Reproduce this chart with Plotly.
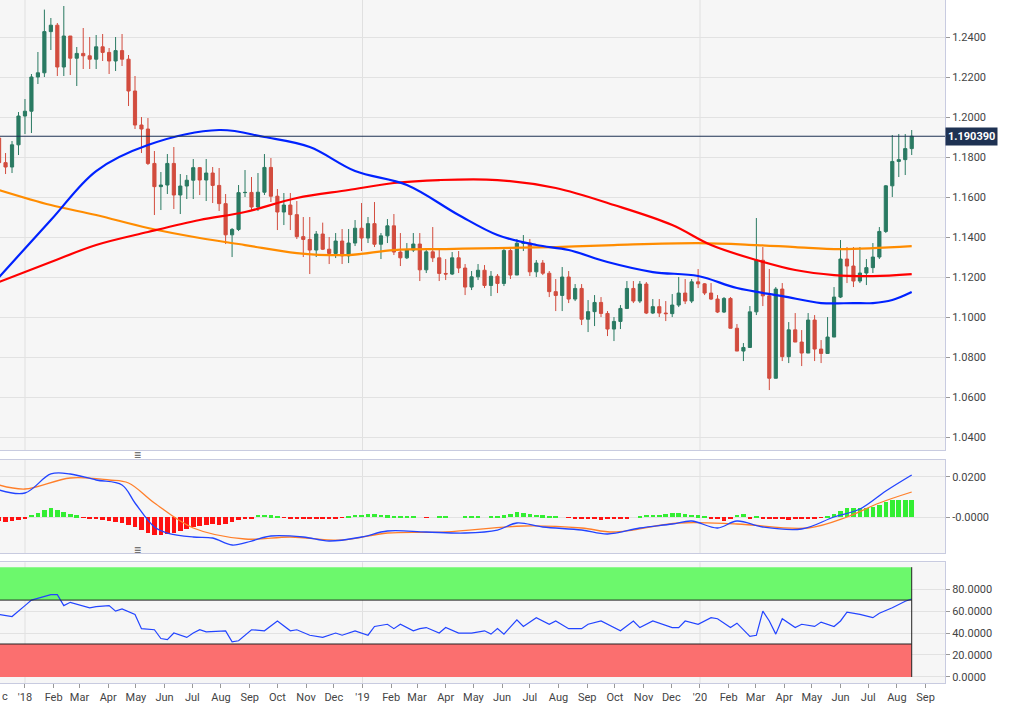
import pandas as pd
import plotly.graph_objects as go
from plotly.subplots import make_subplots

# weekly EUR/USD candles, starting week of 2017-12-04
closes = [1.1772, 1.1750, 1.1861, 1.2005, 1.2029, 1.2200, 1.2221, 1.2427, 1.2459, 1.2250,
          1.2405, 1.2294, 1.2318, 1.2306, 1.2289, 1.2351, 1.2323, 1.2280, 1.2332, 1.2289,
          1.2130, 1.1960, 1.1940, 1.1768, 1.1652, 1.1660, 1.1768, 1.1610, 1.1655, 1.1684,
          1.1747, 1.1685, 1.1720, 1.1658, 1.1567, 1.1411, 1.1438, 1.1622, 1.1623, 1.1550,
          1.1624, 1.1748, 1.1604, 1.1525, 1.1560, 1.1512, 1.1402, 1.1388, 1.1335, 1.1415,
          1.1339, 1.1318, 1.1380, 1.1306, 1.1370, 1.1444, 1.1395, 1.1467, 1.1364, 1.1406,
          1.1456, 1.1325, 1.1296, 1.1335, 1.1365, 1.1236, 1.1326, 1.1296, 1.1218, 1.1215,
          1.1296, 1.1245, 1.1150, 1.1201, 1.1234, 1.1158, 1.1204, 1.1168, 1.1333, 1.1210,
          1.1369, 1.1370, 1.1226, 1.1270, 1.1219, 1.1127, 1.1108, 1.1200, 1.1090, 1.1143,
          1.0989, 1.1027, 1.1073, 1.1018, 1.0940, 1.0978, 1.1043, 1.1143, 1.1080, 1.1165,
          1.1020, 1.1052, 1.1020, 1.1017, 1.1060, 1.1120, 1.1080, 1.1176, 1.1166, 1.1120,
          1.1090, 1.1025, 1.1093, 1.0944, 1.0830, 1.0848, 1.1026, 1.1284, 1.1106, 1.0694,
          1.1140, 1.0802, 1.0936, 1.0875, 1.0820, 1.0985, 1.0840, 1.0818, 1.0900, 1.1100,
          1.1290, 1.1255, 1.1180, 1.1220, 1.1247, 1.1300, 1.1428, 1.1656, 1.1778, 1.1787,
          1.1842, 1.1904]
highs = [1.1850, 1.1820, 1.1880, 1.2025, 1.2090, 1.2215, 1.2325, 1.2537, 1.2495, 1.2470,
         1.2555, 1.2400, 1.2350, 1.2445, 1.2400, 1.2410, 1.2415, 1.2345, 1.2400, 1.2415,
         1.2310, 1.2205, 1.2000, 1.1995, 1.1830, 1.1725, 1.1815, 1.1850, 1.1715, 1.1710,
         1.1790, 1.1750, 1.1790, 1.1750, 1.1745, 1.1615, 1.1445, 1.1660, 1.1735, 1.1700,
         1.1720, 1.1815, 1.1795, 1.1640, 1.1620, 1.1620, 1.1580, 1.1500, 1.1500, 1.1430,
         1.1472, 1.1400, 1.1420, 1.1440, 1.1440, 1.1485, 1.1570, 1.1500, 1.1575, 1.1420,
         1.1490, 1.1515, 1.1420, 1.1370, 1.1420, 1.1420, 1.1340, 1.1450, 1.1340, 1.1290,
         1.1325, 1.1330, 1.1265, 1.1230, 1.1265, 1.1260, 1.1230, 1.1215, 1.1350, 1.1350,
         1.1390, 1.1410, 1.1390, 1.1285, 1.1285, 1.1230, 1.1190, 1.1250, 1.1230, 1.1165,
         1.1165, 1.1085, 1.1110, 1.1100, 1.1030, 1.1000, 1.1060, 1.1180, 1.1180, 1.1180,
         1.1175, 1.1090, 1.1090, 1.1080, 1.1115, 1.1200, 1.1190, 1.1190, 1.1240, 1.1170,
         1.1170, 1.1110, 1.1100, 1.1100, 1.0965, 1.0870, 1.1055, 1.1495, 1.1350, 1.1240,
         1.1150, 1.1170, 1.0975, 1.1020, 1.0935, 1.1020, 1.1010, 1.0885, 1.1000, 1.1150,
         1.1385, 1.1350, 1.1350, 1.1350, 1.1290, 1.1370, 1.1450, 1.1660, 1.1910, 1.1915,
         1.1915, 1.1935]
lows = [1.1720, 1.1715, 1.1720, 1.1810, 1.1915, 1.1920, 1.2165, 1.2200, 1.2335, 1.2205,
        1.2205, 1.2210, 1.2155, 1.2240, 1.2240, 1.2240, 1.2280, 1.2215, 1.2230, 1.2255,
        1.2055, 1.1940, 1.1820, 1.1760, 1.1510, 1.1535, 1.1615, 1.1540, 1.1515, 1.1590,
        1.1590, 1.1610, 1.1580, 1.1570, 1.1530, 1.1365, 1.1300, 1.1430, 1.1600, 1.1530,
        1.1530, 1.1610, 1.1575, 1.1435, 1.1460, 1.1435, 1.1390, 1.1300, 1.1215, 1.1300,
        1.1335, 1.1265, 1.1295, 1.1265, 1.1270, 1.1355, 1.1330, 1.1370, 1.1350, 1.1290,
        1.1370, 1.1310, 1.1255, 1.1290, 1.1325, 1.1180, 1.1220, 1.1275, 1.1180, 1.1185,
        1.1210, 1.1220, 1.1110, 1.1135, 1.1185, 1.1145, 1.1105, 1.1120, 1.1155, 1.1190,
        1.1325, 1.1330, 1.1205, 1.1200, 1.1210, 1.1100, 1.1030, 1.1030, 1.1070, 1.1080,
        1.0960, 1.0925, 1.0955, 1.1000, 1.0905, 1.0880, 1.0940, 1.1040, 1.1070, 1.1070,
        1.1015, 1.1015, 1.1000, 1.0980, 1.1000, 1.1050, 1.1065, 1.1070, 1.1145, 1.1110,
        1.1085, 1.1020, 1.1020, 1.0945, 1.0890, 1.0780, 1.0860, 1.1010, 1.1055, 1.0635,
        1.0850, 1.0780, 1.0770, 1.0880, 1.0755, 1.0830, 1.0780, 1.0770, 1.0820, 1.0900,
        1.1095, 1.1170, 1.1150, 1.1170, 1.1160, 1.1220, 1.1290, 1.1420, 1.1600, 1.1700,
        1.1710, 1.1810]
first_open = 1.1895

# moving averages, read at (week index, value)
ma_blue_wk = [0, 8, 15, 23, 34, 41, 48, 55, 63, 71, 77, 83, 88, 94, 101, 108, 114, 121, 127, 132, 135, 138, 141]
ma_blue = [1.120, 1.1485, 1.173, 1.186, 1.1935, 1.190, 1.185, 1.173, 1.166, 1.151, 1.141, 1.136,
           1.1335, 1.1275, 1.1225, 1.1205, 1.1145, 1.1105, 1.107, 1.107, 1.107, 1.1085, 1.1125]
ma_red_wk = [0, 8, 15, 23, 31, 38, 46, 54, 61, 68, 77, 86, 95, 104, 110, 117, 123, 129, 135, 141]
ma_red = [1.1175, 1.1275, 1.136, 1.1425, 1.1485, 1.1525, 1.1595, 1.1635, 1.167, 1.1685, 1.1685,
          1.1645, 1.156, 1.146, 1.136, 1.1285, 1.1235, 1.121, 1.1205, 1.1215]
ma_orange_wk = [0, 8, 15, 23, 31, 38, 46, 54, 61, 69, 77, 86, 95, 108, 117, 123, 130, 141]
ma_orange = [1.1635, 1.156, 1.151, 1.1445, 1.1395, 1.136, 1.132, 1.131, 1.1335, 1.134, 1.1345,
             1.135, 1.136, 1.137, 1.136, 1.135, 1.134, 1.1355]

# MACD panel
macd_wk = [0, 4, 8, 11, 15, 19, 21, 24, 26, 30, 33, 36, 39, 42, 47, 51, 56, 60, 66, 72, 77, 80,
           84, 90, 94, 99, 104, 107, 111, 114, 118, 124, 129, 133, 137, 141]
macd = [0.0135, 0.012, 0.0215, 0.0215, 0.0185, 0.016, 0.007, -0.005, -0.008, -0.010, -0.0105,
        -0.014, -0.012, -0.0095, -0.010, -0.012, -0.010, -0.007, -0.0075, -0.008, -0.0065, -0.003,
        -0.005, -0.0065, -0.0085, -0.0055, -0.0035, -0.002, -0.0055, -0.002, -0.005, -0.006,
        0.0, 0.004, 0.013, 0.021]
signal_wk = [0, 4, 11, 17, 20, 24, 30, 38, 45, 53, 60, 69, 81, 90, 95, 105, 114, 125, 131, 136, 141]
signal = [0.016, 0.014, 0.0195, 0.0185, 0.017, 0.007, -0.0055, -0.011, -0.010, -0.0115, -0.008,
          -0.0075, -0.0045, -0.0055, -0.0075, -0.003, -0.0035, -0.0055, 0.0, 0.007, 0.0125]
hist = [-0.002, -0.0025, -0.002, -0.0015, -0.001,
        0.001, 0.002, 0.0035, 0.0045, 0.0035, 0.0025, 0.0015,
        0.0008, -0.0003, -0.0005,
        -0.001, -0.0015, -0.002, -0.0025, -0.003, -0.004, -0.005, -0.0065, -0.008, -0.009, -0.009,
        -0.0085, -0.008, -0.007, -0.006, -0.005, -0.0045, -0.004, -0.0035, -0.004, -0.0035, -0.0025, -0.0015, -0.001,
        -0.0005, 0.001, 0.0012, 0.0008, 0.0003, -0.0003, -0.0005,
        -0.0008, -0.001, -0.0012, -0.0008, -0.001, -0.0012, -0.0008, -0.0003,
        0.0005, 0.001, 0.0012, 0.0015, 0.0013, 0.001, 0.0008, 0.0005, 0.0003,
        0.0002, 0.0001, 0.0, -0.0001, 0.0, 0.0001, 0.0001, 0.0, 0.0, 0.0001, 0.0002, 0.0001, 0.0, 0.0002, 0.0005, 0.0008,
        0.0015, 0.0025, 0.002, 0.0015, 0.001, 0.0008, 0.0005, 0.0003, 0.0, -0.0003,
        -0.0005, -0.001, -0.0012, -0.0012, -0.0015, -0.0012, -0.001, -0.0008, -0.0005, 0.0,
        0.0005, 0.001, 0.0012, 0.0012, 0.0015, 0.0018, 0.0018, 0.0015, 0.001, 0.0008, 0.0005,
        -0.0005, -0.001, -0.002, -0.001, 0.001, 0.0015, -0.0005, 0.0003, -0.001, -0.0008,
        -0.001, -0.0012, -0.0013, -0.0012, -0.001, -0.0008, -0.0005, -0.0003, 0.0005, 0.0015,
        0.003, 0.0045, 0.0045, 0.0045, 0.0045, 0.005, 0.006, 0.0075, 0.0085, 0.0085, 0.0085, 0.0085]

# RSI panel
rsi_wk = [0, 2, 4, 5, 8, 9, 10, 11, 14, 15, 17, 18, 19, 21, 22, 24, 25, 26, 27, 29, 30, 31, 32, 35,
          36, 37, 39, 41, 43, 45, 46, 48, 50, 52, 53, 55, 57, 58, 60, 61, 62, 64, 65, 66, 68, 69, 71,
          73, 75, 76, 77, 78, 80, 81, 83, 85, 86, 88, 90, 91, 93, 95, 96, 98, 99, 101, 104, 105, 106,
          108, 110, 111, 113, 114, 116, 117, 118, 119, 120, 121, 123, 124, 126, 127, 129, 130, 131,
          133, 135, 136, 138, 140, 141]
rsi = [57, 55, 65, 70, 75, 75, 65, 68, 63, 64, 65, 60, 62, 57, 44, 43, 35, 34, 40, 36, 40, 43,
       41, 42, 32, 33, 43, 42, 51, 42, 43, 38, 36, 40, 38, 42, 38, 46, 48, 44, 48, 42, 44, 45, 40,
       45, 40, 40, 42, 39, 44, 39, 52, 46, 54, 48, 51, 44, 44, 48, 51, 45, 42, 51, 45, 51, 45, 45,
       51, 48, 54, 53, 45, 49, 37, 38, 60, 51, 39, 53, 45, 48, 46, 50, 46, 51, 59, 57, 54,
       58, 63, 69, 71, 72]

month_ticks = ["2018-01-01", "2018-02-01", "2018-03-01", "2018-04-01", "2018-05-01",
               "2018-06-01", "2018-07-01", "2018-08-01", "2018-09-01", "2018-10-01", "2018-11-01",
               "2018-12-01", "2019-01-01", "2019-02-01", "2019-03-01", "2019-04-01", "2019-05-01",
               "2019-06-01", "2019-07-01", "2019-08-01", "2019-09-01", "2019-10-01", "2019-11-01",
               "2019-12-01", "2020-01-01", "2020-02-01", "2020-03-01", "2020-04-01", "2020-05-01",
               "2020-06-01", "2020-07-01", "2020-08-01", "2020-09-01"]
month_labels = ["'18", "Feb", "Mar", "Apr", "May", "Jun", "Jul", "Aug", "Sep", "Oct", "Nov",
                "Dec", "'19", "Feb", "Mar", "Apr", "May", "Jun", "Jul", "Aug", "Sep", "Oct", "Nov",
                "Dec", "'20", "Feb", "Mar", "Apr", "May", "Jun", "Jul", "Aug", "Sep"]
last_price = 1.190390

dates = pd.date_range("2017-12-04", periods=len(closes), freq="7D")
opens = [first_open] + closes[:-1]
wk = lambda idx: [dates[i] for i in idx]

fig = make_subplots(rows=3, cols=1, shared_xaxes=True, vertical_spacing=0.0,
                    row_heights=[0.66, 0.14, 0.18])

for xs, ys, col in [(ma_orange_wk, ma_orange, "#ff8c00"), (ma_red_wk, ma_red, "#ff0000"),
                    (ma_blue_wk, ma_blue, "#0022ff")]:
    fig.add_trace(go.Scatter(x=wk(xs), y=ys, mode="lines", line=dict(color=col, width=2.2, shape="spline"),
                             hoverinfo="skip"), row=1, col=1)

fig.add_trace(go.Candlestick(x=dates, open=opens, high=highs, low=lows, close=closes,
                             increasing=dict(line=dict(color="#2a7a62", width=1), fillcolor="#2a7a62"),
                             decreasing=dict(line=dict(color="#d24c3e", width=1), fillcolor="#d24c3e"),
                             whiskerwidth=0), row=1, col=1)

fig.add_trace(go.Bar(x=dates, y=hist, marker_color=["#33ee33" if v >= 0 else "#ff1111" for v in hist],
                     marker_line_width=0, width=5 * 86400000), row=2, col=1)
fig.add_trace(go.Scatter(x=wk(signal_wk), y=signal, mode="lines",
                         line=dict(color="#ff7f2a", width=1.3, shape="spline")), row=2, col=1)
fig.add_trace(go.Scatter(x=wk(macd_wk), y=macd, mode="lines",
                         line=dict(color="#2244ff", width=1.3, shape="spline")), row=2, col=1)

fig.add_trace(go.Scatter(x=wk(rsi_wk), y=rsi, mode="lines", line=dict(color="#2244ff", width=1.2)),
              row=3, col=1)

# RSI zones
x_end = dates[-1]
fig.add_shape(type="rect", x0="2017-11-01", x1=x_end, y0=70, y1=100, fillcolor="#6cf86c",
              line=dict(width=0), layer="between", row=3, col=1)
fig.add_shape(type="rect", x0="2017-11-01", x1=x_end, y0=0, y1=30, fillcolor="#fb6f6f",
              line=dict(width=0), layer="between", row=3, col=1)
for yv in [70, 30]:
    fig.add_shape(type="line", x0="2017-11-01", x1=x_end, y0=yv, y1=yv,
                  line=dict(color="#222", width=1), row=3, col=1)
fig.add_shape(type="line", x0=x_end, x1=x_end, y0=0, y1=100, line=dict(color="#222", width=1), row=3, col=1)

# current price line
fig.add_shape(type="line", xref="paper", x0=0, x1=1, yref="y", y0=last_price, y1=last_price,
              line=dict(color="#1e3253", width=1.2))
fig.add_annotation(xref="paper", x=1.0, yref="y", y=last_price, text="<b>%.6f</b>" % last_price,
                   showarrow=False, xanchor="left", bgcolor="#1e3253", font=dict(color="white", size=11),
                   borderpad=2)

for d in ["2018-01-01", "2019-01-01", "2020-01-01"]:
    for r in [1, 2, 3]:
        fig.add_vline(x=d, line=dict(color="#e0e0e0", width=1), layer="below", row=r, col=1)

for yy in [0.335, 0.183]:
    fig.add_annotation(xref="paper", yref="paper", x=132 / 945, y=yy, text="≡", showarrow=False,
                       font=dict(size=12, color="#555"))
# clipped "Dec" label at the left edge
fig.add_annotation(xref="paper", yref="paper", x=0, y=0, yshift=-4, text="c", showarrow=False,
                   xanchor="left", yanchor="top", font=dict(size=11, color="#444"))

axis_common = dict(side="right", showgrid=True, gridcolor="#e2e2e2", ticks="outside", ticklen=4,
                   tickcolor="#999", tickfont=dict(size=11, color="#444"), zeroline=False,
                   showline=True, linecolor="#c8cbe0", mirror=True)
fig.update_yaxes(axis_common)
fig.update_yaxes(range=[1.0335, 1.2585], tickvals=[1.04, 1.06, 1.08, 1.10, 1.12, 1.14, 1.16, 1.18,
                 1.20, 1.22, 1.24, 1.26], tickformat=".4f", row=1, col=1)
fig.update_yaxes(range=[-0.018, 0.0285], tickvals=[0, 0.02], ticktext=["-0.0000", "0.0200"],
                 row=2, col=1)
fig.update_yaxes(range=[-5.5, 104.5], tickvals=[0, 20, 40, 60, 80], tickformat=".4f", row=3, col=1)
fig.update_xaxes(range=["2017-12-05", "2020-09-22"], showgrid=False, rangeslider_visible=False,
                 showline=True, linecolor="#c8cbe0", mirror=True)
fig.update_xaxes(tickvals=month_ticks, ticktext=month_labels, ticks="outside", ticklen=4,
                 tickcolor="#999", tickfont=dict(size=11, color="#444"), row=3, col=1)

fig.update_layout(width=1024, height=706, margin=dict(l=0, r=79, t=0, b=22),
                  plot_bgcolor="#f6f6f6", paper_bgcolor="white", showlegend=False,
                  font=dict(family="Roboto, Arial, sans-serif"), bargap=0)
fig.update_layout(yaxis=dict(domain=[0.342, 1.0]), yaxis2=dict(domain=[0.1915, 0.3275]),
                  yaxis3=dict(domain=[0.0015, 0.178]))
fig.write_html("out.html", config={"displayModeBar": False},
               post_script="document.body.style.margin='0';")
